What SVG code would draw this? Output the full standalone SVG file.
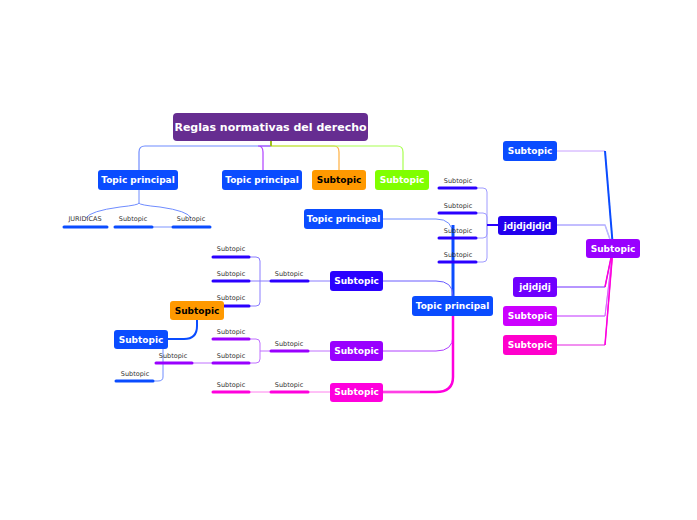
<svg xmlns="http://www.w3.org/2000/svg" width="697" height="520" viewBox="0 0 697 520">
<style>
.n text{font-family:"DejaVu Sans",sans-serif;font-weight:bold;font-size:9px;fill:#fff;text-anchor:middle}
.s{font-family:"DejaVu Sans",sans-serif;font-size:6.5px;fill:#333;text-anchor:middle}
.u{stroke-width:3;stroke-linecap:round;fill:none}
#c path{fill:none}
</style>
<rect width="697" height="520" fill="#fff"/>
<g id="c">
<path d="M271 141V146H145Q139 146 139 152V170" stroke="#6f8cff" stroke-width="1.2"/>
<path d="M271 146H258Q263 146 263 152V170" stroke="#b040ff" stroke-width="1.2"/>
<path d="M271 146H334Q339 146 339 152V170" stroke="#ffb040" stroke-width="1.2"/>
<path d="M271 146H397Q403 146 403 152V170" stroke="#a8ff50" stroke-width="1.2"/>
<path d="M271 141V146" stroke="#a0c020" stroke-width="2"/>
<path d="M139 190V203Q139 205 120 207Q90 211 86 218M139 203Q139 205 160 207Q188 211 191 218" stroke="#6f8cff"/>
<path d="M153 227H172" stroke="#a8b8ff" stroke-width="1.5"/>
<path d="M383 219H436Q453 219 453 236V296" stroke="#6f8cff"/>
<path d="M453 225V296" stroke="#0a4cff" stroke-width="3"/>
<path d="M383 281H436Q453 281 453 296" stroke="#6a5cff"/>
<path d="M453 316V336Q453 351 436 351H383" stroke="#b040ff"/>
<path d="M453 316V377Q453 392 436 392H383" stroke="#ff00dd" stroke-width="2.5"/>
<path d="M383 392H420" stroke="#ff80ee"/>
<path d="M477 188H483Q487 188 487 192V258Q487 262 483 262H477M477 213H483Q487 213 487 217V234Q487 238 483 238H477M487 225H498" stroke="#a09cff"/>
<path d="M487 225H498" stroke="#2a00ff" stroke-width="2"/>
<path d="M557 151H605L613 248M557 225H605L613 248M557 287H605L613 248M557 316H605L613 248M557 345H605L613 248" stroke="#c8a0ff"/>
<path d="M605 151L613 248" stroke="#0a4cff" stroke-width="2"/>
<path d="M557 225H605L613 248" stroke="#b8b8ff" stroke-width="1.5"/>
<path d="M557 287H605L613 248" stroke="#8a5cff"/>
<path d="M557 316H605L613 248" stroke="#dd60ff"/>
<path d="M557 345H605L613 248" stroke="#ff50e0"/>
<path d="M613 248L605 287M613 248L605 345" stroke="#ff00dd" stroke-width="1.5"/>
<path d="M309 281H330M250 257H256Q260 257 260 261V302Q260 306 256 306H250M250 281H270" stroke="#8a7cff"/>
<path d="M309 351H330M250 339H256Q260 339 260 343V359Q260 363 256 363H250M260 351H270" stroke="#c070ff"/>
<path d="M250 392H270M309 392H330" stroke="#ff80ee"/>
<path d="M197 320V326Q197 339 184 339H168" stroke="#0a4cff" stroke-width="2"/>
<path d="M193 363H212" stroke="#c070ff"/>
<path d="M163 349V377Q163 381 158 381H154" stroke="#6f8cff"/>
</g>
<g id="leaves">
<path class="u" d="M64 227H107" stroke="#0a4cff"/><text class="s" x="85" y="221">JURIDICAS</text>
<path class="u" d="M115 227H152" stroke="#0a4cff"/><text class="s" x="133" y="221">Subtopic</text>
<path class="u" d="M173 227H210" stroke="#0a4cff"/><text class="s" x="191" y="221">Subtopic</text>
<path class="u" d="M439 188H476" stroke="#2a00ff"/><text class="s" x="458" y="183">Subtopic</text>
<path class="u" d="M439 213H476" stroke="#2a00ff"/><text class="s" x="458" y="208">Subtopic</text>
<path class="u" d="M439 238H476" stroke="#2a00ff"/><text class="s" x="458" y="233">Subtopic</text>
<path class="u" d="M439 262H476" stroke="#2a00ff"/><text class="s" x="458" y="257">Subtopic</text>
<path class="u" d="M213 257H249" stroke="#2a00ff"/><text class="s" x="231" y="251">Subtopic</text>
<path class="u" d="M213 281H249" stroke="#2a00ff"/><text class="s" x="231" y="276">Subtopic</text>
<path class="u" d="M213 306H249" stroke="#2a00ff"/><text class="s" x="231" y="300">Subtopic</text>
<path class="u" d="M271 281H308" stroke="#2a00ff"/><text class="s" x="289" y="276">Subtopic</text>
<path class="u" d="M213 339H249" stroke="#9900ff"/><text class="s" x="231" y="334">Subtopic</text>
<path class="u" d="M213 363H249" stroke="#9900ff"/><text class="s" x="231" y="358">Subtopic</text>
<path class="u" d="M271 351H308" stroke="#9900ff"/><text class="s" x="289" y="346">Subtopic</text>
<path class="u" d="M213 392H249" stroke="#ff00dd"/><text class="s" x="231" y="387">Subtopic</text>
<path class="u" d="M271 392H308" stroke="#ff00dd"/><text class="s" x="289" y="387">Subtopic</text>
<path class="u" d="M156 363H192" stroke="#9900ff"/><text class="s" x="173" y="358">Subtopic</text>
<path class="u" d="M116 381H153" stroke="#0a4cff"/><text class="s" x="135" y="376">Subtopic</text>
</g>
<g id="root" class="n"><rect x="173" y="113" width="195" height="28" rx="4" fill="#662d91"/><text x="270.500" y="131" style="font-size:11px">Reglas normativas del derecho</text></g>
<g id="tp1" class="n"><rect x="98" y="170" width="80" height="20" rx="3" fill="#0a4cff"/><text x="138" y="183">Topic principal</text></g>
<g id="tp2" class="n"><rect x="222" y="170" width="80" height="20" rx="3" fill="#0a4cff"/><text x="262" y="183">Topic principal</text></g>
<g id="so" class="n"><rect x="312" y="170" width="54" height="20" rx="3" fill="#ff9900"/><text x="339" y="183" style="fill:#000">Subtopic</text></g>
<g id="sg" class="n"><rect x="375" y="170" width="54" height="20" rx="3" fill="#80ff00"/><text x="402" y="183">Subtopic</text></g>
<g id="tp3" class="n"><rect x="304" y="209" width="79" height="20" rx="3" fill="#0a4cff"/><text x="343.500" y="222">Topic principal</text></g>
<g id="tp4" class="n"><rect x="412" y="296" width="81" height="20" rx="3" fill="#0a4cff"/><text x="452.500" y="309">Topic principal</text></g>
<g id="s1" class="n"><rect x="330" y="271" width="53" height="20" rx="3" fill="#2a00ff"/><text x="356.500" y="284">Subtopic</text></g>
<g id="s2" class="n"><rect x="330" y="341" width="53" height="20" rx="3" fill="#9900ff"/><text x="356.500" y="354">Subtopic</text></g>
<g id="s3" class="n"><rect x="330" y="383" width="53" height="19" rx="3" fill="#ff00dd"/><text x="356.500" y="395">Subtopic</text></g>
<g id="so2" class="n"><rect x="170" y="301" width="54" height="19" rx="3" fill="#ff9900"/><text x="197" y="314" style="fill:#000">Subtopic</text></g>
<g id="sb" class="n"><rect x="114" y="330" width="54" height="19" rx="3" fill="#0a4cff"/><text x="141" y="343">Subtopic</text></g>
<g id="jd" class="n"><rect x="498" y="216" width="59" height="19" rx="3" fill="#2200ee"/><text x="527.500" y="229">jdjdjdjdjd</text></g>
<g id="rs" class="n"><rect x="586" y="239" width="54" height="19" rx="3" fill="#9900ff"/><text x="613" y="252">Subtopic</text></g>
<g id="r1" class="n"><rect x="503" y="141" width="54" height="20" rx="3" fill="#0a4cff"/><text x="530" y="154">Subtopic</text></g>
<g id="r2" class="n"><rect x="513" y="277" width="44" height="20" rx="3" fill="#7000ff"/><text x="535" y="290">jdjdjdj</text></g>
<g id="r3" class="n"><rect x="503" y="306" width="54" height="20" rx="3" fill="#cc00ff"/><text x="530" y="319">Subtopic</text></g>
<g id="r4" class="n"><rect x="503" y="335" width="54" height="20" rx="3" fill="#ff00cc"/><text x="530" y="348">Subtopic</text></g>
</svg>
